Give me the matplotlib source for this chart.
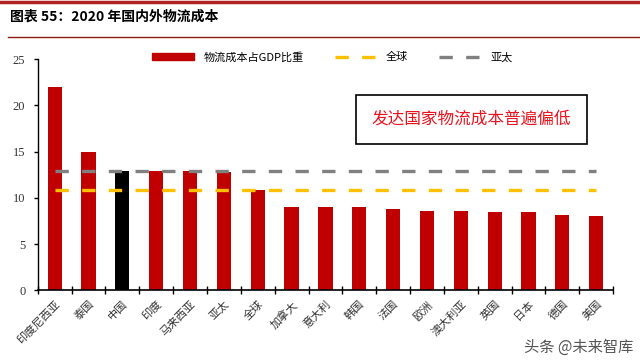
import matplotlib.pyplot as plt
from matplotlib.patches import Patch
from matplotlib.lines import Line2D

plt.rcParams['font.family'] = ['Noto Sans CJK SC', 'DejaVu Sans']

# 数据
countries = ['印度尼西亚', '泰国', '中国', '印度', '马来西亚', '亚太', '全球', '加拿大', '意大利',
             '韩国', '法国', '欧洲', '澳大利亚', '英国', '日本', '德国', '美国']
cost_gdp = [22.0, 15.0, 12.9, 12.9, 12.9, 12.8, 10.8, 9.0, 9.0,
            9.0, 8.8, 8.6, 8.6, 8.5, 8.5, 8.1, 8.0]
global_avg = 10.8
apac_avg = 12.9
highlight = '中国'

red = '#C00000'
yellow = '#FFC000'
gray = '#808080'

fig = plt.figure(figsize=(6.4, 3.64), dpi=100)
ax = fig.add_axes([0.059, 0.2025, 0.899, 0.635])

x = list(range(len(countries)))
colors = ['black' if c == highlight else red for c in countries]
ax.bar(x, cost_gdp, width=0.42, color=colors, zorder=2)

ax.plot(x, [apac_avg] * len(x), color=gray, lw=2.4, dashes=(4, 4), zorder=3)
ax.plot(x, [global_avg] * len(x), color=yellow, lw=2.4, dashes=(4, 4), zorder=3)

ax.set_xlim(-0.5, len(x) - 0.5)
ax.set_ylim(0, 25)
ax.set_yticks([0, 5, 10, 15, 20, 25])
ax.set_yticklabels(['0', '5', '10', '15', '20', '25'], family='Liberation Serif', fontsize=9, color='#333333')
ax.set_xticks(x)
ax.set_xticklabels(countries, rotation=45, ha='right', rotation_mode='anchor', fontsize=8, color='#333333')
ax.set_xticks([i - 0.5 for i in range(len(x) + 1)], minor=True)
ax.tick_params(axis='x', which='major', length=0, pad=6)
ax.tick_params(axis='x', which='minor', direction='inout', length=6, width=1)
ax.tick_params(axis='y', length=3, width=1, pad=6)

for s in ['top', 'right']:
    ax.spines[s].set_visible(False)
ax.spines['left'].set_linewidth(1)
ax.spines['bottom'].set_linewidth(1.2)

# 图例
handles = [Patch(color=red),
           Line2D([0], [0], color=yellow, lw=2.4, dashes=(4, 4)),
           Line2D([0], [0], color=gray, lw=2.4, dashes=(4, 4))]
fig.legend(handles, ['物流成本占GDP比重', '全球', '亚太'], loc='center left',
           bbox_to_anchor=(0.222, 0.843), ncol=3, frameon=False, fontsize=8,
           handlelength=3.8, handleheight=0.6, columnspacing=2.8, handletextpad=0.8)

# 注释框
fig.text(0.737, 0.672, '发达国家物流成本普遍偏低', color='#E8141E', fontsize=12,
         ha='center', va='center',
         bbox=dict(boxstyle='square,pad=0.95', fc='white', ec='black', lw=1.2))

# 标题与装饰线
fig.text(0.016, 0.953, '图表 55：2020 年国内外物流成本', fontsize=10, fontweight='bold', va='center')
fig.add_artist(Line2D([0, 1], [0.995, 0.995], color='#B22222', lw=2.5))
fig.add_artist(Line2D([0.012, 1], [0.898, 0.898], color='#8B1A1A', lw=1))

fig.text(0.99, 0.045, '头条 @未来智库', fontsize=11, color='#555555', ha='right', va='center')

fig.savefig('out.png', dpi=100)
